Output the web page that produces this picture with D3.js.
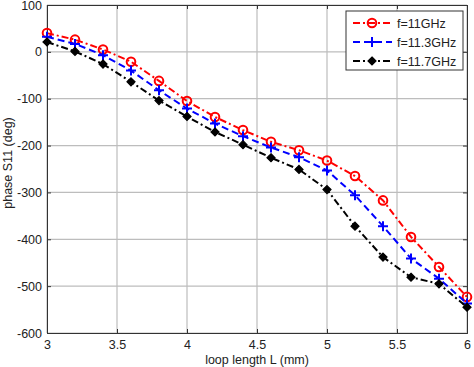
<!DOCTYPE html>
<html><head><meta charset="utf-8">
<script src="https://cdn.jsdelivr.net/npm/d3@7"></script>
<style>body{margin:0;background:#fff}svg{display:block;font-family:"Liberation Sans",Arial,sans-serif}</style>
</head><body><svg id="c" width="474" height="367"></svg>
<script>
const xValues = [3,3.2,3.4,3.6,3.8,4,4.2,4.4,4.6,4.8,5,5.2,5.4,5.6,5.8,6];
const f11 = [40,26,5,-21,-62,-105,-139,-167,-192,-210,-232,-265,-317,-395,-459,-523];
const f113 = [32,17,-7,-40,-82,-121,-153,-180,-204,-225,-253,-306,-372,-441,-484,-537];
const f117 = [21,1,-26,-64,-104,-138,-171,-198,-226,-251,-294,-372,-438,-481,-495,-545];
const seriesNames = ["f=11GHz","f=11.3GHz","f=11.7GHz"];
const xTicks = [3,3.5,4,4.5,5,5.5,6];
const yTicks = [100,0,-100,-200,-300,-400,-500,-600];

const svg = d3.select("#c");
const L=47,R=467,T=5,B=333;
const x = d3.scaleLinear().domain([3,6]).range([L,R]);
const y = d3.scaleLinear().domain([-600,100]).range([B,T]);

// grid
const g = svg.append("g");
g.selectAll(".gx").data(xTicks).enter().append("line")
 .attr("x1",d=>x(d)).attr("x2",d=>x(d)).attr("y1",T).attr("y2",B)
 .attr("stroke","#bdbdbd").attr("stroke-width",1.2);
g.selectAll(".gy").data(yTicks).enter().append("line")
 .attr("y1",d=>y(d)).attr("y2",d=>y(d)).attr("x1",L).attr("x2",R)
 .attr("stroke","#bdbdbd").attr("stroke-width",1.2);

// axes
const ax = svg.append("g").attr("transform",`translate(0,${B})`)
 .call(d3.axisBottom(x).tickValues(xTicks).tickSize(-4).tickPadding(7).tickFormat(d3.format("")));
const ay = svg.append("g").attr("transform",`translate(${L},0)`)
 .call(d3.axisLeft(y).tickValues(yTicks).tickSize(-4).tickPadding(5).tickFormat(d=>String(d)));
const at = svg.append("g").attr("transform",`translate(0,${T})`)
 .call(d3.axisTop(x).tickValues(xTicks).tickSize(-4).tickFormat(""));
const ar = svg.append("g").attr("transform",`translate(${R},0)`)
 .call(d3.axisRight(y).tickValues(yTicks).tickSize(-4).tickFormat(""));
[ax,ay,at,ar].forEach(a=>{
  a.select(".domain").attr("stroke","#333").attr("stroke-width",1);
  a.selectAll(".tick line").attr("stroke","#333");
  a.selectAll("text").attr("font-size",12.5).attr("fill","#222").attr("font-family","Liberation Sans, Arial, sans-serif");
});

svg.append("text").attr("x",(L+R)/2).attr("y",364).attr("text-anchor","middle")
 .attr("font-size",12.5).attr("fill","#222").text("loop length L (mm)");
svg.append("text").attr("transform",`translate(12,${(T+B)/2-6}) rotate(-90)`).attr("text-anchor","middle")
 .attr("font-size",12.5).attr("fill","#222").text("phase S11 (deg)");

const series = [
 {name:seriesNames[0], vals:f11, color:"#ff0000", dash:"7,3,2,3", marker:"circle"},
 {name:seriesNames[1], vals:f113, color:"#0000ff", dash:"7,4", marker:"plus"},
 {name:seriesNames[2], vals:f117, color:"#000000", dash:"7,3,2,3", marker:"diamond"}
];
const line = d3.line().x(d=>x(d[0])).y(d=>y(d[1]));

function drawMarker(sel, s){
  if(s.marker==="circle"){
    sel.append("circle").attr("r",4.3).attr("fill","none").attr("stroke",s.color).attr("stroke-width",2);
  } else if(s.marker==="plus"){
    sel.append("path").attr("d","M-5,0H5M0,-5V5").attr("stroke",s.color).attr("stroke-width",2);
  } else {
    sel.append("path").attr("d","M0,-4L4,0L0,4L-4,0Z").attr("fill",s.color).attr("stroke",s.color).attr("stroke-width",1.2);
  }
}

series.forEach(s=>{
  const pts = xValues.map((xv,i)=>[xv,s.vals[i]]);
  svg.append("path").datum(pts).attr("d",line).attr("fill","none")
   .attr("stroke",s.color).attr("stroke-width",2).attr("stroke-dasharray",s.dash);
  svg.selectAll(null).data(pts).enter().append("g")
   .attr("transform",d=>`translate(${x(d[0])},${y(d[1])})`).each(function(){drawMarker(d3.select(this),s);});
});

// legend
const lg = svg.append("g");
lg.append("rect").attr("x",346).attr("y",11).attr("width",117).attr("height",59)
 .attr("fill","#fff").attr("stroke","#333").attr("stroke-width",1);
series.forEach((s,i)=>{
  const yy = 23 + i*19;
  lg.append("line").attr("x1",353).attr("x2",392).attr("y1",yy).attr("y2",yy)
   .attr("stroke",s.color).attr("stroke-width",2).attr("stroke-dasharray",s.dash);
  drawMarker(lg.append("g").attr("transform",`translate(372,${yy})`), s);
  lg.append("text").attr("x",397).attr("y",yy+4.5).attr("font-size",12.5).attr("fill","#222").text(s.name);
});
</script></body></html>
